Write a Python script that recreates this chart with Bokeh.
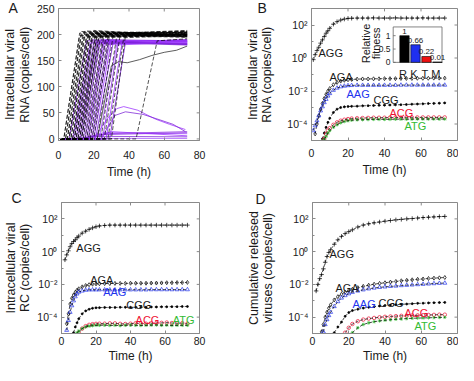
import math
from bokeh.plotting import figure
from bokeh.layouts import column, row
from bokeh.models import (FixedTicker, Range1d, LinearScale, Title, CustomJSTickFormatter)
from bokeh.embed import file_html
from bokeh.resources import INLINE
from bokeh.core.properties import value

FONT = "Liberation Sans"
AX = "#8a8a8a"
TXT = "#1a1a1a"
BLUE = "#2233ee"
RED = "#ee1133"
GREEN = "#33bb33"
N = None

# ---------------- data: panel A (stochastic trajectories, read per line) -------------
a_black_t0 = [3, 3, 4, 4, 5, 5, 6, 6, 7, 7, 8, 8, 9, 9, 10, 10, 11, 11, 12, 12, 13, 13, 14, 15, 16, 17, 18, 19, 20, 22, 24, 26, 28, 30, 44]
a_black_t1 = [12, 12, 13, 13, 14, 14, 15, 15, 16, 16, 17, 17, 18, 18, 19, 19, 20, 21, 21, 22, 22, 23, 23, 24, 25, 26, 27, 28, 29, 31, 33, 35, 37, 38, 56]
a_black_top = [203, 198, 206, 200, 195, 204, 199, 207, 201, 196, 203, 198, 205, 200, 194, 202, 208, 197, 203, 199, 205, 196, 202, 200, 197, 203, 199, 195, 201, 198, 196, 200, 194, 198, 188]
a_black_end = [200, 205, 199, 208, 201, 196, 203, 198, 206, 200, 204, 195, 202, 207, 199, 203, 197, 205, 200, 196, 204, 201, 198, 206, 200, 197, 202, 199, 196, 203, 200, 195, 198, 201, 192]
a_wiggle_t = [22, 30, 34, 39, 46, 53, 60, 67, 73]
a_wiggle_v = [0, 140, 148, 146, 152, 160, 166, 170, 178]

a_purple_t0 = [6, 8, 9, 10, 11, 12, 13, 14, 15, 16, 17, 18, 19, 20, 21, 23, 25, 27, 29]
a_purple_t1 = [16, 18, 19, 20, 21, 22, 23, 24, 25, 26, 27, 28, 29, 30, 31, 33, 34, 36, 38]
a_purple_top = [188, 184, 190, 186, 182, 189, 185, 191, 183, 187, 190, 181, 186, 188, 184, 180, 186, 183, 185]
a_purple_end = [185, 190, 183, 188, 186, 181, 190, 184, 187, 182, 188, 185, 183, 189, 180, 186, 182, 187, 181]
a_low_t = [[1, 20, 28, 33, 37, 45, 55, 63, 72],
           [1, 24, 32, 38, 48, 58, 65, 72],
           [1, 15, 25, 73],
           [1, 12, 22, 73],
           [1, 18, 30, 73],
           [1, 10, 20, 73],
           [1, 73],
           [1, 14, 26, 73]]
a_low_v = [[0, 0, 40, 58, 62, 55, 38, 28, 18],
           [0, 0, 45, 52, 47, 36, 28, 14],
           [0, 0, 12, 10],
           [0, 0, 8, 12],
           [0, 0, 14, 6],
           [0, 0, 5, 4],
           [1, 1],
           [0, 0, 10, 14]]

# ---------------- data: panels B, C, D (log10 of copies/cell) ----------------
T = [1, 2, 3, 4, 5, 6, 7, 8, 9, 10, 12, 14, 16, 18, 20, 22, 25, 28, 31, 34, 37, 40, 43, 46, 49, 52, 55, 58, 61, 64, 67, 70, 73]
SERIES = ["AGG", "AGA", "AAG", "CGG", "ACG", "ATG"]

B_AGG = [-0.1, 0.2, 0.45, 0.65, 0.9, 1.1, 1.3, 1.5, 1.65, 1.8, 2.05, 2.2, 2.3, 2.36, 2.4, 2.41,
         2.42, 2.42, 2.42, 2.43, 2.42, 2.42, 2.42, 2.43, 2.42, 2.42, 2.42, 2.42, 2.43, 2.42, 2.42, 2.42, 2.42]
B_AGA = [N, -4.6, -4.0, -3.5, -3.1, -2.75, -2.45, -2.2, -2.0, -1.85, -1.62, -1.48, -1.4, -1.35, -1.32, -1.3,
         -1.28, -1.27, -1.27, -1.26, -1.26, -1.25, -1.25, -1.25, -1.24, -1.24, -1.24, -1.23, -1.23, -1.23, -1.22, -1.22, -1.22]
B_AAG = [-4.4, -4.1, -3.8, -3.5, -3.2, -2.95, -2.7, -2.5, -2.3, -2.15, -1.95, -1.82, -1.74, -1.7, -1.67, -1.66,
         -1.65, -1.65, -1.65, -1.65, -1.65, -1.65, -1.65, -1.65, -1.64, -1.64, -1.64, -1.64, -1.64, -1.64, -1.64, -1.64, -1.64]
B_CGG = [N, N, N, N, N, -4.9, -4.55, -4.2, -3.9, -3.65, -3.3, -3.1, -3.0, -2.96, -2.94, -2.93,
         -2.92, -2.9, -2.89, -2.88, -2.87, -2.86, -2.85, -2.84, -2.83, -2.82, -2.8, -2.79, -2.78, -2.76, -2.75, -2.74, -2.72]
B_ACG = [N, N, N, N, N, N, -4.9, -4.6, -4.4, -4.25, -4.05, -3.9, -3.8, -3.74, -3.7, -3.67,
         -3.65, -3.64, -3.63, -3.62, -3.62, -3.62, -3.61, -3.61, -3.61, -3.6, -3.6, -3.6, -3.6, -3.6, -3.6, -3.6, -3.6]
B_ATG = [N, N, N, N, N, N, -4.95, -4.75, -4.55, -4.4, -4.2, -4.05, -3.93, -3.85, -3.8, -3.77,
         -3.75, -3.74, -3.73, -3.72, -3.72, -3.72, -3.72, -3.71, -3.71, -3.71, -3.71, -3.7, -3.7, -3.7, -3.7, -3.7, -3.7]

C_AGG = [N, -0.5, -0.2, 0.05, 0.3, 0.5, 0.62, 0.72, 0.85, 0.95, 1.13, 1.25, 1.36, 1.45, 1.52, 1.57,
         1.6, 1.62, 1.62, 1.62, 1.62, 1.62, 1.62, 1.62, 1.62, 1.62, 1.62, 1.62, 1.62, 1.62, 1.62, 1.62, 1.62]
C_AGA = [N, N, -4.4, -3.8, -3.2, -2.85, -2.65, -2.48, -2.36, -2.27, -2.15, -2.07, -2.02, -1.99, -1.97, -1.96,
         -1.95, -1.95, -1.94, -1.94, -1.94, -1.93, -1.93, -1.93, -1.93, -1.92, -1.92, -1.91, -1.9, -1.9, -1.89, -1.89, -1.88]
C_AAG = [N, N, -4.8, -4.2, -3.7, -3.3, -3.0, -2.75, -2.58, -2.47, -2.4, -2.35, -2.33, -2.33, -2.33, -2.33,
         -2.33, -2.33, -2.33, -2.33, -2.33, -2.33, -2.33, -2.33, -2.33, -2.32, -2.32, -2.32, -2.32, -2.32, -2.32, -2.32, -2.32]
C_CGG = [N, N, N, N, N, N, -4.95, -4.6, -4.35, -4.1, -3.8, -3.62, -3.52, -3.46, -3.43, -3.42,
         -3.41, -3.41, -3.41, -3.4, -3.4, -3.4, -3.4, -3.39, -3.39, -3.38, -3.38, -3.37, -3.37, -3.36, -3.36, -3.35, -3.35]
C_ACG = [N, N, N, N, N, N, N, N, N, -4.95, -4.7, -4.55, -4.47, -4.43, -4.41, -4.4,
         -4.4, -4.38, -4.38, -4.41, -4.42, -4.4, -4.37, -4.39, -4.4, -4.38, -4.36, -4.35, -4.33, -4.36, -4.38, -4.37, -4.4]
C_ATG = [N, N, N, N, N, N, N, N, -4.95, -4.85, -4.7, -4.6, -4.55, -4.52, -4.5, -4.5,
         -4.49, -4.51, -4.5, -4.52, -4.5, -4.49, -4.5, -4.51, -4.5, -4.49, -4.48, -4.5, -4.49, -4.51, -4.5, -4.5, -4.5]

D_AGG = [N, -2.4, -2.0, -1.65, -1.4, -1.05, -0.65, -0.3, -0.05, 0.12, 0.45, 0.72, 0.93, 1.1, 1.22, 1.33,
         1.5, 1.62, 1.7, 1.76, 1.81, 1.86, 1.9, 1.94, 1.97, 2.0, 2.02, 2.05, 2.08, 2.1, 2.12, 2.14, 2.15]
D_AGA = [N, N, N, N, -4.9, -4.45, -4.0, -3.7, -3.45, -3.25, -2.95, -2.75, -2.6, -2.48, -2.38, -2.3,
         -2.2, -2.12, -2.05, -1.99, -1.94, -1.9, -1.86, -1.82, -1.78, -1.75, -1.72, -1.69, -1.67, -1.64, -1.62, -1.6, -1.58]
D_AAG = [N, N, N, N, N, -4.9, -4.45, -4.15, -3.9, -3.7, -3.35, -3.05, -2.83, -2.68, -2.57, -2.48,
         -2.4, -2.33, -2.27, -2.22, -2.18, -2.15, -2.12, -2.1, -2.07, -2.05, -2.03, -2.01, -1.99, -1.97, -1.95, -1.93, -1.92]
D_CGG = [N, N, N, N, N, N, N, N, N, N, -4.95, -4.6, -4.3, -3.95, -3.72, -3.6,
         -3.52, -3.45, -3.4, -3.36, -3.32, -3.29, -3.26, -3.24, -3.22, -3.2, -3.18, -3.16, -3.15, -3.13, -3.12, -3.11, -3.1]
D_ACG = [N, N, N, N, N, N, N, N, N, N, N, N, N, -4.95, -4.65, -4.42,
         -4.25, -4.15, -4.09, -4.05, -4.01, -3.98, -3.96, -3.94, -3.92, -3.91, -3.9, -3.89, -3.88, -3.87, -3.86, -3.85, -3.85]
D_ATG = [N, N, N, N, N, N, N, N, N, N, N, N, N, N, N, -4.95,
         -4.65, -4.45, -4.35, -4.28, -4.23, -4.19, -4.16, -4.13, -4.11, -4.09, -4.07, -4.06, -4.05, -4.04, -4.03, -4.02, -4.01]

# inset of B
fit_cats = ["R", "K", "T", "M"]
fit_vals = [1.0, 0.66, 0.22, 0.01]
fit_text = ["1", "0.66", "0.22", "0.01"]
fit_colors = ["#000000", "#1f2ff0", "#ee1111", "#000000"]

X_TICKS = [0, 20, 40, 60, 80]
A_YTICKS = [0, 50, 100, 150, 200, 250]
LOG_TICKS = [1e-4, 1e-2, 1, 1e2]
LOG_MINOR = [1e-5, 1e-3, 1e-1, 1e1, 1e3]

# ---------------- layout geometry (page pixels) ----------------
GEOM = {
    "A": dict(x0=8, y0=8, w=229, h=182, l=50, r=30, t=8, b=42, yr=(-3, 250), log=False),
    "B": dict(x0=237, y0=8, w=229, h=182, l=82, r=1, t=7, b=39, yr=(1e-5, 1e3), log=True),
    "C": dict(x0=8, y0=190, w=229, h=183, l=50, r=30, t=20, b=30, yr=(1e-5, 1e3), log=True),
    "D": dict(x0=237, y0=190, w=229, h=183, l=83, r=1, t=20, b=30, yr=(1e-5, 1e3), log=True),
}


def frame(n):
    g = GEOM[n]
    return (g["x0"] + g["l"], g["x0"] + g["w"] - g["r"], g["y0"] + g["t"], g["y0"] + g["h"] - g["b"])


def px2x(n, px):
    fx0, fx1, _, _ = frame(n)
    return (px - fx0) / (fx1 - fx0) * 80.0


def py2y(n, py):
    g = GEOM[n]
    _, _, fy0, fy1 = frame(n)
    frac = (fy1 - py) / (fy1 - fy0)
    if g["log"]:
        lo, hi = math.log10(g["yr"][0]), math.log10(g["yr"][1])
        return 10 ** (lo + frac * (hi - lo))
    return g["yr"][0] + frac * (g["yr"][1] - g["yr"][0])


def style_axis(ax, size="10.5px"):
    ax.axis_line_color = AX
    ax.axis_line_width = 1
    ax.major_tick_line_color = AX
    ax.major_tick_in = 3
    ax.major_tick_out = 0
    ax.minor_tick_line_color = AX
    ax.minor_tick_in = 2
    ax.minor_tick_out = 0
    ax.major_label_text_font = FONT
    ax.major_label_text_font_size = size
    ax.major_label_text_color = TXT
    ax.axis_label_text_font = FONT
    ax.axis_label_text_font_style = "normal"
    ax.axis_label_text_color = TXT


SUP = CustomJSTickFormatter(code="""
const e = Math.round(Math.log10(tick));
const s = {'-':'\u207b','0':'\u2070','1':'\u00b9','2':'\u00b2','3':'\u00b3','4':'\u2074','5':'\u2075','6':'\u2076','7':'\u2077','8':'\u2078','9':'\u2079'};
return '10' + String(e).split('').map(c => s[c]).join('');
""")


def make_fig(n, ylabel, xstand, xlabstand, ylabstand):
    g = GEOM[n]
    kw = dict(width=g["w"], height=g["h"], min_border_left=g["l"], min_border_right=g["r"],
              min_border_top=g["t"], min_border_bottom=g["b"], output_backend="svg",
              toolbar_location=None, x_range=Range1d(0, 80), y_range=Range1d(*g["yr"]))
    if g["log"]:
        kw["y_axis_type"] = "log"
    p = figure(**kw)
    p.grid.visible = False
    p.outline_line_color = AX
    p.outline_line_width = 1
    xa = p.below[0]
    ya = p.left[0]
    style_axis(xa)
    style_axis(ya)
    xa.ticker = FixedTicker(ticks=X_TICKS, minor_ticks=[])
    xa.major_label_standoff = xstand
    xa.axis_label = "Time (h)"
    xa.axis_label_text_font_size = "12px"
    xa.axis_label_standoff = xlabstand
    ya.axis_label = ylabel
    ya.axis_label_text_font_size = "12.5px"
    ya.axis_label_text_line_height = 1.05
    ya.axis_label_standoff = ylabstand
    ya.major_label_standoff = 4
    if g["log"]:
        ya.ticker = FixedTicker(ticks=LOG_TICKS, minor_ticks=LOG_MINOR)
        ya.formatter = SUP
        yt = LOG_TICKS
    else:
        ya.ticker = FixedTicker(ticks=A_YTICKS, minor_ticks=[])
        yt = A_YTICKS
    fx0, fx1, fy0, fy1 = frame(n)
    ytop, ytick = g["yr"][1], py2y(n, fy0 + 3)
    p.segment(x0=X_TICKS, x1=X_TICKS, y0=[ytop] * len(X_TICKS), y1=[ytick] * len(X_TICKS),
              line_color=AX, line_width=1)
    xr = px2x(n, fx1 - 3)
    p.segment(x0=[80] * len(yt), x1=[xr] * len(yt), y0=yt, y1=yt, line_color=AX, line_width=1)
    return p


def letter_title(p, n, text, px, standoff):
    fx0 = frame(n)[0]
    t = Title(text=text, align="left", offset=px - fx0, text_font=FONT, text_font_size="14px",
              text_font_style="normal", text_color=TXT, standoff=standoff)
    p.add_layout(t, "above")


# ---------------- panel A ----------------
pA = make_fig("A", "Intracellular viral\nRNA (copies/cell)", 10, 3, 2)
purp = ["#8a2be2", "#9b30ff", "#7b22d6", "#a64dff"]
qx = [[1, a, b, 73] for a, b in zip(a_purple_t0, a_purple_t1)]
qy = [[0, 0, top, end] for top, end in zip(a_purple_top, a_purple_end)]
pA.multi_line(qx, qy, line_color=[purp[i % 4] for i in range(len(qx))], line_width=0.9, line_alpha=0.9)
pA.multi_line(a_low_t, a_low_v, line_color=[purp[(i + 1) % 4] for i in range(len(a_low_t))],
              line_width=0.9, line_alpha=0.85)
bx = [[1, a, b, 73] for a, b in zip(a_black_t0, a_black_t1)]
by = [[0, 0, top, end] for top, end in zip(a_black_top, a_black_end)]
pA.multi_line(bx, by, line_color="black", line_dash="4 2", line_width=0.8, line_alpha=0.85)
pA.line(a_wiggle_t, a_wiggle_v, line_color="#333333", line_width=0.8)
letter_title(pA, "A", "A", 8, -14)


# ---------------- log panels ----------------
MARK = {
    "AGG": dict(marker="cross", size=4.5, color="black"),
    "AGA": dict(marker="diamond", size=4, color="black"),
    "AAG": dict(marker="triangle", size=4, color=BLUE),
    "CGG": dict(marker="circle", size=2, color="black"),
    "ACG": dict(marker="circle", size=3.5, color=RED),
    "ATG": dict(marker="asterisk", size=3.5, color=GREEN),
}
LABEL_COLOR = {"AGG": TXT, "AGA": TXT, "AAG": BLUE, "CGG": TXT, "ACG": RED, "ATG": GREEN}


def tolin(lst):
    return [10 ** v if v is not None else float("nan") for v in lst]


def draw_series(p, n, data, label_pos):
    for name, vals in zip(SERIES, data):
        m = MARK[name]
        y = tolin(vals)
        p.scatter(T, y, marker=m["marker"], size=m["size"], line_color=m["color"],
                  fill_color=m["color"] if name == "CGG" else None, line_width=0.7)
        p.line(T, y, line_color="black", line_dash="3 2", line_width=0.7)
    for name in SERIES:
        px, py = label_pos[name]
        p.text(x=[px2x(n, px)], y=[py2y(n, py)], text=[name], text_color=LABEL_COLOR[name],
               text_font=value(FONT), text_font_size="11px", text_align="left",
               text_baseline="middle")


pB = make_fig("B", "Intracellular viral\nRNA (copies/cell)", 8, 3, 10)
draw_series(pB, "B", [B_AGG, B_AGA, B_AAG, B_CGG, B_ACG, B_ATG],
            {"AGG": (326, 60.5), "AGA": (337, 86), "AAG": (354, 103.5),
             "CGG": (381, 109), "ACG": (397, 122.5), "ATG": (412, 136)})

ICX, IDX, IY0, IDY = 412.0, 11.0, 70.5, 27.5


def iu(px):
    return 1 + (px - ICX) / IDX


def iv(py):
    return (IY0 - py) / IDY


fx0, fx1, fy0, fy1 = frame("B")
pB.extra_x_ranges = {"ix": Range1d(iu(fx0), iu(fx1))}
pB.extra_y_ranges = {"iy": Range1d(iv(fy1), iv(fy0))}
pB.extra_x_scales = {"ix": LinearScale()}
pB.extra_y_scales = {"iy": LinearScale()}
IK = dict(x_range_name="ix", y_range_name="iy")
box_l, box_r, box_t = iu(400.7), iu(449.5), iv(34)
pB.quad(left=[box_l], right=[box_r], bottom=[0], top=[box_t], fill_color="white",
        line_color="#666666", line_width=0.8, **IK)
xs = list(range(1, len(fit_cats) + 1))
pB.vbar(x=xs, top=fit_vals, bottom=0, width=0.85, fill_color=fit_colors,
        line_color="black", line_width=0.6, **IK)
pB.text(x=xs, y=[v + 0.08 for v in fit_vals], text=fit_text, text_font=value(FONT),
        text_font_size="8px", text_align="center", text_baseline="bottom", text_color=TXT, **IK)
pB.segment(x0=[box_l] * 3, x1=[box_l + 0.22] * 3, y0=[0, 0.5, 1], y1=[0, 0.5, 1],
           line_color="#666666", line_width=0.8, **IK)
pB.text(x=[iu(398)] * 3, y=[0, 0.5, 1], text=["0", "0.5", "1"], text_font=value(FONT),
        text_font_size="8.5px", text_align="right", text_baseline="middle", text_color=TXT, **IK)
pB.text(x=[x - 0.15 for x in xs], y=[iv(76)] * 4, text=fit_cats, text_font=value(FONT),
        text_font_size="11px", text_align="center", text_baseline="top", text_color=TXT, **IK)
pB.text(x=[iu(373), iu(383.5)], y=[iv(51)] * 2, text=["Relative", "fitness"],
        angle=math.pi / 2, text_font=value(FONT), text_font_size="11px",
        text_align="center", text_baseline="middle", text_color=TXT, **IK)
letter_title(pB, "B", "B", 265, -15)

pC = make_fig("C", "Intracellular viral\nRC (copies/cell)", 3, 1, 2)
draw_series(pC, "C", [C_AGG, C_AGA, C_AAG, C_CGG, C_ACG, C_ATG],
            {"AGG": (74, 256), "AGA": (89, 288.5), "AAG": (103, 300.5),
             "CGG": (128, 314), "ACG": (138, 329), "ATG": (178, 329)})
letter_title(pC, "C", "C", 8, -7)

pD = make_fig("D", "Cumulative released\nviruses (copies/cell)", 3, 1, 10)
draw_series(pD, "D", [D_AGG, D_AGA, D_AAG, D_CGG, D_ACG, D_ATG],
            {"AGG": (337, 262.5), "AGA": (343, 296.5), "AAG": (360, 313),
             "CGG": (386, 312.5), "ACG": (412, 322.5), "ATG": (422, 335.5)})
letter_title(pD, "D", "D", 263, -9)

layout = column(row(pA, pB), row(pC, pD))
open("out.html", "w").write(file_html(layout, INLINE))
